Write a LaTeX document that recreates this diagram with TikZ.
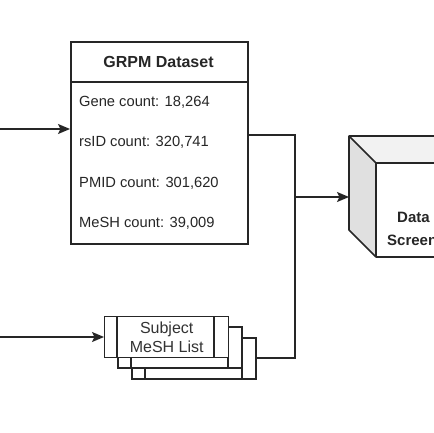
\documentclass[tikz,border=0pt]{standalone}
\usepackage{fontspec}
\setmainfont{Liberation Sans}
\usetikzlibrary{arrows.meta}
\begin{document}
\begin{tikzpicture}[x=1pt,y=-1pt,
  box/.style={draw=black!85,line width=1.9pt},
  conn/.style={draw=black!85,line width=1.4pt},
  arr/.style={conn,-{Stealth[length=12pt,width=10pt,inset=2.5pt]}},
  sub/.style={draw=black!85,line width=1.4pt,fill=white},
  rowtxt/.style={anchor=west,inner sep=0pt,text=black!85,font=\fontsize{14.7}{17}\selectfont},
  cubetxt/.style={anchor=base west,inner sep=0pt,text=black!85,font=\bfseries\fontsize{15}{18}\selectfont}]
\useasboundingbox (0,0) rectangle (433,433);
\fill[white] (0,0) rectangle (433,433);

% GRPM dataset box
\node[box,minimum width=177pt,minimum height=202pt,anchor=north west,inner sep=0pt] (grpm) at (70,41) {};
\draw[box] (70,82) -- (247,82);
\node[text=black!85,font=\bfseries\fontsize{16}{19}\selectfont] (hdr) at (158.5,61.5) {GRPM Dataset};
\node[rowtxt] (gene) at (79,102) {Gene count: 18,264};
\node[rowtxt] (rsid) at (79,142) {rsID count: 320,741};
\node[rowtxt] (pmid) at (79,183) {PMID count: 301,620};
\node[rowtxt] (mesh) at (79,223) {MeSH count: 39,009};

\coordinate (in1) at (0,129);
\draw[arr] (in1) -- (in1 -| grpm.west);

% Subject MeSH list stack
\foreach \dx/\dy in {28/22,14/11}{
  \draw[sub] ({104+\dx},{316+\dy}) rectangle ({228+\dx},{357+\dy});
  \draw[sub] ({117+\dx},{316+\dy}) -- ({117+\dx},{357+\dy});
  \draw[sub] ({214+\dx},{316+\dy}) -- ({214+\dx},{357+\dy});
}
\node[sub,minimum width=124pt,minimum height=41pt,anchor=north west,inner sep=0pt,
      align=center,text=black!80,font=\fontsize{16}{18.5}\selectfont] (subj) at (104,316) {Subject\\MeSH List};
\draw[sub] (117,316) -- (117,357);
\draw[sub] (214,316) -- (214,357);

\coordinate (in2) at (0,337);
\draw[arr] (in2) -- (in2 -| subj.west);

% Data screening cube
\fill[black!5] (349,136) -- (376,163) -- (520,163) -- (493,136) -- cycle;
\fill[black!12] (349,136) -- (376,163) -- (376,257) -- (349,230) -- cycle;
\draw[conn,line width=1.6pt,line join=round] (349,136) -- (493,136);
\draw[conn,line width=1.6pt,line join=round] (349,230) -- (349,136) -- (376,163) -- (376,257) -- cycle;
\draw[conn,line width=1.6pt] (376,163) -- (520,163);
\draw[conn,line width=1.6pt] (376,257) -- (520,257);
\node[cubetxt] (dtxt) at (397,222) {Data};
\node[cubetxt] (stxt) at (387,245) {Screening};
\coordinate (cubeL) at (349,197);

% merge connectors
\coordinate (j) at (295,197);
\coordinate (stackR) at (256,358);
\coordinate (grpmR) at (247,135);
\draw[conn] (grpmR) -| (j) |- (stackR);
\draw[arr] (j) -- (cubeL);
\end{tikzpicture}
\end{document}
